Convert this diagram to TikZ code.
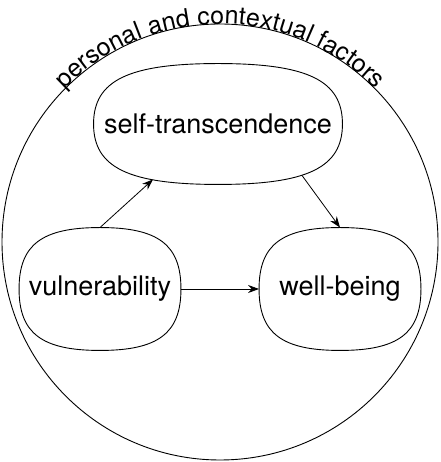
\documentclass[tikz,border=0pt]{standalone}
\usepackage{fontspec}
\setmainfont{TeX Gyre Heros}
\usetikzlibrary{arrows.meta,calc,decorations.text}
\tikzset{%
    blob/.style={rectangle, inner sep=0pt, font=\fontsize{27}{32}\selectfont},
    link/.style={-{Stealth[length=11pt,width=8pt]}, line width=0.8pt}
}

\begin{document}
\begin{tikzpicture}[x=1pt, y=1pt, line width=0.9pt]
	\useasboundingbox (0,0) rectangle (440,462);
	\draw (220,220) circle[radius=218];
	\path [decorate, decoration={text along path, text align=center,
		text={|\fontsize{25}{30}\selectfont|personal and contextual factors}}]
		(220,220) ++(150:218) arc[start angle=150, end angle=30, radius=218];
	\node [blob, minimum width=248pt, minimum height=120pt] (trans) at (218,338) {self-transcendence};
	\node [blob, minimum width=161pt, minimum height=122pt] (vuln) at (100,173) {vulnerability};
	\node [blob, minimum width=161pt, minimum height=122pt] (well) at (340,173) {well-being};
	\foreach \n in {trans,vuln,well}
		\draw (\n.north)
			.. controls ($(\n.north)!.72!(\n.north east)$) and ($(\n.east)!.72!(\n.north east)$) .. (\n.east)
			.. controls ($(\n.east)!.72!(\n.south east)$) and ($(\n.south)!.72!(\n.south east)$) .. (\n.south)
			.. controls ($(\n.south)!.72!(\n.south west)$) and ($(\n.west)!.72!(\n.south west)$) .. (\n.west)
			.. controls ($(\n.west)!.72!(\n.north west)$) and ($(\n.north)!.72!(\n.north west)$) .. (\n.north);
	\draw [link] (vuln.north) -- ([xshift=-65pt, yshift=5pt]trans.south);
	\draw [link] ([xshift=84pt, yshift=9pt]trans.south) -- (well.north);
	\draw [link] (vuln.east) -- (well.west);
\end{tikzpicture}
\end{document}
